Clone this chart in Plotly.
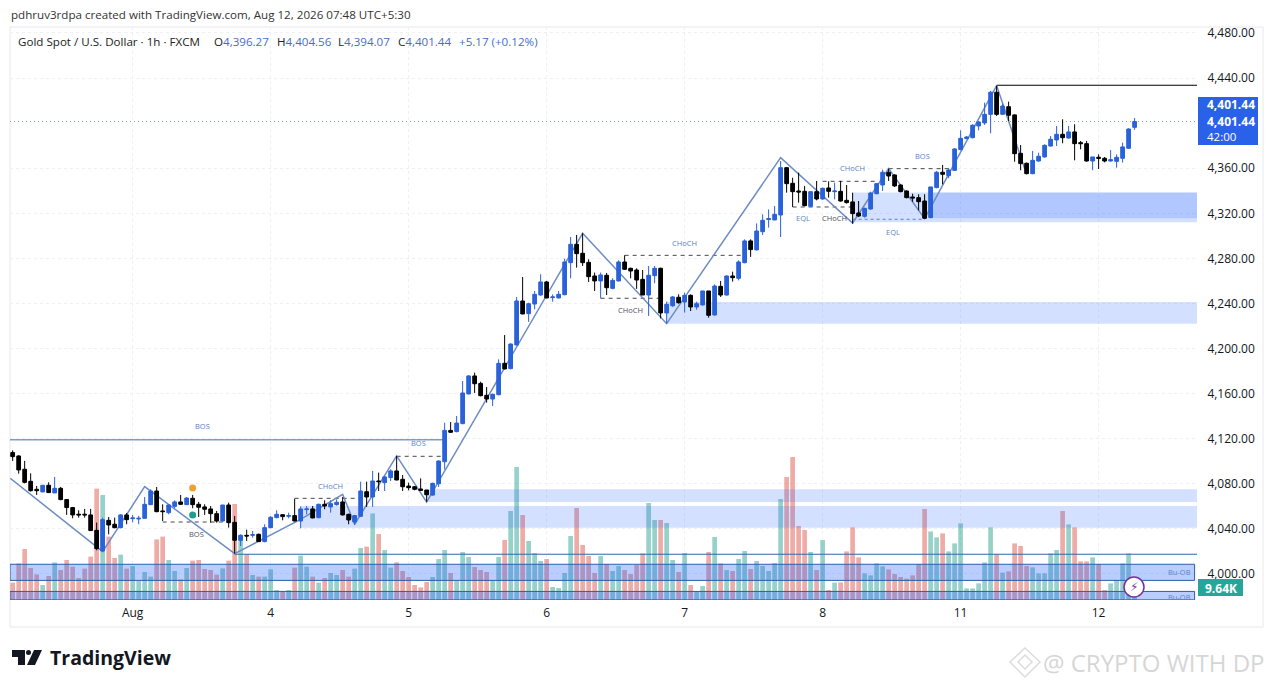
import plotly.graph_objects as go

W, H = 1273, 688
opens = [4107.7,4104.7,4092.9,4082.2,4075.1,4072.8,4078.7,4071.9,4076.0,4066.0,4058.9,4053.0,4053.0,4052.4,4038.7,4020.4,4047.6,4044.1,4041.1,4052.4,4049.1,4048.8,4049.4,4061.5,4073.6,4055.9,4054.4,4060.0,4063.9,4061.5,4067.1,4061.8,4059.5,4057.7,4053.5,4047.0,4061.2,4045.8,4029.9,4034.3,4034.3,4035.2,4028.7,4041.1,4050.0,4052.6,4051.2,4051.8,4047.0,4057.1,4057.7,4050.0,4061.8,4059.5,4061.5,4063.9,4052.9,4046.1,4051.2,4073.0,4068.3,4082.5,4081.0,4085.5,4091.4,
4084.0,4078.0,4077.4,4075.4,4074.5,4070.0,4080.1,4099.6,4127.4,4126.3,4133.4,4159.7,4175.7,4169.1,4158.5,4155.2,4159.1,4186.9,4182.2,4203.2,4242.2,4231.0,4239.5,4247.5,4259.1,4245.2,4244.9,4247.8,4276.2,4292.5,4284.5,4276.5,4264.4,4260.0,4265.0,4253.4,4260.0,4276.8,4271.2,4269.7,4261.4,4247.5,4264.7,4271.2,4231.6,4238.0,4245.5,4241.3,4247.2,4236.9,4238.7,4251.1,4229.8,4255.2,4247.5,4264.4,4262.3,4276.2,4295.5,4287.5,
4303.7,4314.4,4314.1,4318.5,4360.5,4346.6,4339.8,4339.5,4326.2,4339.2,4332.7,4342.5,4339.2,4339.5,4331.5,4330.1,4320.3,4317.3,4323.8,4337.4,4345.1,4356.4,4354.0,4345.1,4339.8,4334.5,4333.9,4330.9,4316.2,4342.8,4356.4,4353.4,4358.1,4376.5,4386.3,4387.1,4397.5,4400.2,4407.8,4427.4,4407.8,4414.6,4407.3,4373.2,4364.4,4355.2,4366.4,4370.0,4379.7,4385.1,4390.1,4386.8,4392.2,4382.7,4381.8,4366.4,4369.7,4368.8,4366.4,4366.1,4368.8,4377.7,4396.27]
highs = [4109.7,4105.3,4100.3,4089.3,4078.1,4078.9,4081.3,4086.1,4077.2,4066.0,4059.5,4056.5,4057.7,4057.7,4045.6,4050.0,4050.6,4050.0,4053.0,4054.1,4052.4,4051.5,4068.3,4075.1,4077.2,4061.8,4061.8,4065.4,4070.1,4068.3,4070.1,4063.9,4061.8,4060.3,4055.9,4061.2,4063.3,4051.5,4035.2,4039.3,4038.2,4035.8,4044.1,4051.2,4056.5,4052.9,4054.4,4066.8,4060.0,4060.3,4060.3,4062.4,4065.4,4065.4,4066.2,4068.3,4053.5,4052.4,4081.9,4081.9,4091.4,4089.9,4087.0,4092.9,4104.7,
4087.8,4081.0,4078.0,4084.8,4074.5,4081.0,4100.8,4134.2,4134.8,4140.2,4171.2,4176.5,4178.6,4170.6,4165.9,4160.0,4190.4,4212.0,4204.6,4245.8,4263.5,4240.7,4251.1,4265.9,4260.0,4248.1,4251.1,4279.8,4299.0,4300.8,4302.3,4279.2,4267.4,4267.4,4267.1,4262.3,4278.3,4282.7,4271.8,4271.2,4269.7,4273.3,4273.3,4271.8,4241.6,4246.6,4248.1,4249.6,4248.1,4241.6,4251.1,4251.1,4257.0,4260.0,4265.0,4268.2,4278.3,4296.9,4296.9,4311.0,
4319.1,4323.5,4326.5,4366.4,4361.1,4351.6,4356.1,4344.3,4339.8,4348.7,4342.8,4348.4,4347.2,4348.7,4345.1,4338.3,4330.9,4325.0,4339.2,4346.9,4358.7,4359.6,4354.6,4345.7,4340.4,4337.4,4336.9,4336.9,4343.4,4357.6,4362.9,4359.9,4377.7,4393.6,4388.6,4399.0,4401.9,4418.2,4428.6,4433.3,4417.3,4419.1,4407.8,4380.6,4365.0,4375.3,4373.8,4381.2,4388.6,4397.5,4403.4,4397.5,4399.0,4384.2,4384.2,4370.0,4372.3,4370.0,4376.2,4372.3,4382.7,4395.4,4404.56]
lows = [4100.3,4089.0,4080.4,4073.0,4070.1,4072.5,4071.9,4071.9,4065.4,4052.4,4049.4,4050.0,4050.0,4038.2,4021.0,4019.8,4035.2,4040.5,4040.5,4044.1,4045.8,4044.1,4048.8,4061.2,4054.7,4047.0,4052.9,4058.3,4061.2,4061.2,4058.3,4050.6,4052.4,4045.5,4045.5,4046.4,4041.1,4018.0,4024.8,4029.3,4032.2,4028.4,4028.1,4040.5,4049.4,4047.6,4049.4,4046.7,4040.5,4052.9,4049.4,4049.4,4057.4,4054.4,4060.6,4051.8,4044.1,4043.5,4050.6,4059.5,4059.5,4073.6,4073.6,4082.5,4083.1,
4073.6,4074.2,4074.2,4073.6,4064.1,4069.5,4077.2,4092.8,4125.1,4125.7,4132.8,4159.4,4160.6,4157.6,4152.0,4149.0,4158.5,4181.6,4181.6,4202.6,4230.4,4223.6,4234.8,4246.9,4244.6,4241.6,4244.6,4247.2,4262.3,4271.8,4273.3,4259.1,4251.1,4244.6,4247.5,4252.6,4259.4,4269.7,4262.3,4252.9,4247.5,4228.9,4257.9,4226.8,4222.1,4236.9,4239.8,4231.9,4233.3,4234.5,4238.1,4227.4,4229.2,4245.8,4246.9,4259.4,4260.5,4275.6,4281.3,4287.2,
4300.8,4307.3,4313.8,4299.0,4338.3,4325.6,4329.5,4326.2,4325.6,4331.5,4332.1,4333.9,4332.4,4330.3,4328.6,4310.8,4316.7,4316.1,4323.2,4336.9,4339.8,4348.7,4343.4,4338.6,4333.3,4330.3,4322.6,4315.0,4315.6,4342.2,4345.7,4351.1,4357.6,4375.9,4385.7,4386.5,4393.6,4398.4,4391.0,4406.4,4407.2,4401.9,4365.8,4358.2,4354.6,4354.6,4365.8,4369.4,4379.2,4379.7,4382.1,4386.3,4367.0,4376.8,4365.8,4358.2,4359.3,4365.2,4365.8,4360.5,4365.0,4377.1,4394.07]
closes = [4104.1,4092.3,4081.3,4073.9,4073.9,4078.7,4072.2,4076.0,4066.0,4058.9,4052.4,4052.4,4052.4,4038.5,4022.5,4048.2,4043.5,4041.1,4052.4,4048.2,4049.7,4049.4,4061.8,4073.6,4055.3,4055.3,4061.2,4063.9,4061.8,4067.4,4061.5,4059.2,4057.4,4053.5,4047.0,4061.2,4045.5,4029.9,4034.3,4033.7,4034.9,4028.7,4041.1,4050.3,4052.9,4050.9,4051.8,4047.0,4057.7,4057.7,4049.7,4061.8,4060.3,4062.4,4063.6,4052.4,4047.9,4051.8,4073.6,4068.3,4082.5,4081.9,4086.1,4091.4,4083.4,
4077.4,4076.6,4075.1,4074.2,4070.3,4080.4,4100.2,4127.4,4125.7,4133.9,4160.6,4175.7,4168.8,4158.2,4155.2,4159.4,4186.9,4181.9,4204.0,4242.2,4230.7,4239.8,4248.1,4259.1,4244.9,4245.8,4248.1,4276.8,4292.5,4284.2,4276.2,4263.8,4260.0,4265.3,4254.0,4260.5,4276.8,4270.3,4268.8,4260.8,4247.5,4265.0,4271.2,4231.6,4239.2,4245.8,4240.7,4247.2,4236.9,4239.8,4251.1,4229.5,4255.5,4247.5,4264.4,4262.9,4276.8,4295.5,4287.8,4304.3,
4313.8,4315.3,4319.1,4360.5,4346.3,4339.2,4338.9,4326.8,4339.2,4332.7,4342.2,4339.5,4339.8,4330.9,4329.5,4319.7,4317.6,4324.4,4338.0,4346.3,4356.4,4353.1,4344.3,4339.2,4333.9,4333.6,4330.3,4315.6,4343.4,4356.4,4354.6,4358.4,4377.1,4386.5,4387.7,4398.1,4401.0,4407.8,4427.4,4407.8,4415.2,4407.0,4372.9,4364.1,4355.2,4367.0,4370.6,4380.3,4385.7,4390.1,4387.1,4392.2,4381.8,4381.8,4366.4,4370.0,4368.8,4366.4,4367.6,4369.7,4378.9,4394.8,4401.44]
volumes_k = [13.9,29.3,40.8,25.6,20.5,12.0,19.2,30.1,24.0,32.0,26.7,17.6,25.1,34.7,89.1,84.0,50.7,33.6,36.3,25.1,27.2,15.5,22.4,18.7,48.5,50.7,32.0,23.2,16.5,25.6,31.5,32.0,24.8,24.0,20.3,25.3,31.5,76.8,52.0,36.8,20.0,18.7,18.7,24.5,8.0,6.7,8.0,25.9,35.5,26.7,18.7,13.9,17.6,21.6,20.0,24.0,18.7,25.1,41.6,42.7,69.3,52.8,40.0,25.9,30.1,
23.2,18.4,12.0,10.1,14.4,18.4,32.8,40.0,21.6,15.2,38.4,34.4,26.4,24.0,22.4,16.0,34.4,48.0,71.2,106.4,68.0,47.2,37.6,31.2,32.8,10.4,9.6,21.6,51.2,73.6,44.0,35.2,21.6,35.2,28.8,23.2,27.2,24.0,20.8,28.0,37.3,77.6,64.0,64.0,61.6,32.0,22.4,37.6,12.0,7.2,11.2,38.4,50.4,29.3,24.0,23.2,32.8,39.2,24.8,31.2,
27.2,23.2,29.6,80.8,98.4,114.4,59.2,56.0,38.4,24.0,48.0,8.0,13.9,14.1,38.9,58.1,34.1,21.3,19.7,29.3,26.9,24.5,20.8,18.4,17.1,19.7,28.8,72.8,54.9,50.1,53.3,38.9,45.3,61.3,9.3,9.3,13.3,30.1,58.1,36.8,21.9,22.9,45.3,43.2,27.2,26.1,21.3,21.3,37.3,40.0,71.2,60.5,58.1,30.9,30.9,34.1,28.8,8.0,13.3,16.0,29.3,37.3,9.64]

day_ticks = [20, 43, 66, 89, 112, 135, 158, 181]
day_labels = ["Aug", "4", "5", "6", "7", "8", "11", "12"]
price_ticks = [4000, 4040, 4080, 4120, 4160, 4200, 4240, 4280, 4320, 4360, 4440, 4480]

zigzag_i = [-0.4, 15, 22, 37, 48, 55, 57, 64, 69, 95, 109, 128, 140, 146, 152, 164, 169]
zigzag_p = [4084.9, 4019.8, 4077.5, 4018.0, 4048.5, 4070.7, 4044.1, 4104.7, 4063.8, 4302.3, 4222.1, 4369.4, 4311.4, 4359.6, 4315.3, 4433.3, 4354.6]

END = 197.4
LEFT = -0.445
zones = [
    (140, END, 4338.5, 4312.0, 0.20, False),
    (153, END, 4338.5, 4315.6, 0.20, False),
    (109, END, 4241.3, 4222.1, 0.20, False),
    (69, END, 4075.1, 4063.9, 0.20, False),
    (48, END, 4060.3, 4041.1, 0.20, False),
    (LEFT, 197, 4008.6, 3994.3, 0.32, True),
    (LEFT, 197, 3984.5, 3977.0, 0.32, True),
]
solid_lines = [
    (LEFT, 72, 4119.0, "#3a6fb0", 1),
    (37, END, 4017.5, "#2f66a8", 1),
    (164, END, 4433.6, "#000000", 1.2),
]
dashed_lines = [
    (25, 35, 4046.1), (47, 59, 4067.1), (64, 72, 4104.4), (98, 108, 4244.6),
    (102, 122, 4282.7), (135, 144, 4348.4), (130, 140, 4325.6), (146, 156, 4359.6),
]
BLUE_TXT = "#5b84c4"
DARK_TXT = "#50535e"
labels = [
    ("BOS", 31.7, 4131.3, BLUE_TXT), ("BOS", 67.7, 4116.2, BLUE_TXT), ("CHoCH", 53, 4078.4, BLUE_TXT),
    ("BOS", 30.7, 4035.5, DARK_TXT), ("CHoCH", 112, 4294.0, BLUE_TXT), ("CHoCH", 103, 4234.5, DARK_TXT),
    ("CHoCH", 140, 4360.0, BLUE_TXT), ("BOS", 151.7, 4371.2, BLUE_TXT), ("EQL", 131.7, 4315.9, BLUE_TXT),
    ("CHoCH", 137, 4315.9, DARK_TXT), ("EQL", 146.7, 4303.5, BLUE_TXT), ("Bu-OB", 194.4, 4001.8, BLUE_TXT),
    ("Bu-OB", 194.4, 3979.5, BLUE_TXT),
]
LAST = 4401.44


def px(x):
    return x / W


def py(y):
    return 1 - y / H


idx = list(range(len(closes)))
vol_colors = ["rgba(38,160,145,0.48)" if c >= o else "rgba(225,95,85,0.52)" for o, c in zip(opens, closes)]

fig = go.Figure()
fig.add_trace(go.Bar(x=idx, y=volumes_k, marker=dict(color=vol_colors, line_width=0), width=0.78,
                     yaxis="y", hoverinfo="skip", showlegend=False))
for x0, x1, top, bot, op, outline in zones:
    fig.add_trace(go.Scatter(x=[x0, x1, x1, x0, x0], y=[top, top, bot, bot, top], mode="lines",
                             fill="toself", fillcolor=f"rgba(41,98,255,{op})",
                             line=dict(color="#2a5fa8" if outline else "rgba(0,0,0,0)", width=1),
                             yaxis="y2", hoverinfo="skip", showlegend=False))
for x0, x1, p, col, w in solid_lines:
    fig.add_trace(go.Scatter(x=[x0, x1], y=[p, p], mode="lines", line=dict(color=col, width=w),
                             yaxis="y2", hoverinfo="skip", showlegend=False))
for x0, x1, p in dashed_lines:
    fig.add_trace(go.Scatter(x=[x0, x1], y=[p, p], mode="lines", line=dict(color="#333333", width=0.9, dash="4px,4px"),
                             yaxis="y2", hoverinfo="skip", showlegend=False))
fig.add_trace(go.Scatter(x=[140, 152], y=[4314.7, 4314.7], mode="lines", line=dict(color="#5b84c4", width=1, dash="dot"),
                         yaxis="y2", hoverinfo="skip", showlegend=False))
fig.add_trace(go.Scatter(x=[LEFT, END], y=[LAST, LAST], mode="lines", line=dict(color="#8a9bb5", width=1, dash="1px,3px"),
                         yaxis="y2", hoverinfo="skip", showlegend=False))
fig.add_trace(go.Scatter(x=zigzag_i, y=zigzag_p, mode="lines", line=dict(color="#6d8cc4", width=1.5),
                         yaxis="y2", hoverinfo="skip", showlegend=False))
fig.add_trace(go.Candlestick(x=idx, open=opens, high=highs, low=lows, close=closes, yaxis="y3",
                             increasing=dict(line=dict(color="#2962d9", width=1), fillcolor="#2962d9"),
                             decreasing=dict(line=dict(color="#000000", width=1), fillcolor="#000000"),
                             whiskerwidth=0, hoverinfo="skip", showlegend=False))
fig.add_trace(go.Scatter(x=[30], y=[4076.3], mode="markers", marker=dict(color="#f0a030", size=7), yaxis="y2",
                         hoverinfo="skip", showlegend=False))
fig.add_trace(go.Scatter(x=[30], y=[4052.4], mode="markers", marker=dict(color="#1f9e89", size=7), yaxis="y2",
                         hoverinfo="skip", showlegend=False))

FONT = "Open Sans"
ann = []


def text(x, y, s, size, color, anchor="left", bold=False, fam=FONT):
    ann.append(dict(x=px(x), y=py(y), xref="paper", yref="paper", text=f"<b>{s}</b>" if bold else s, showarrow=False,
                    xanchor=anchor, yanchor="middle", font=dict(family=fam, size=size, color=color),
                    borderpad=0))


for s, i, p, c in labels:
    ann.append(dict(x=i, y=p, xref="x", yref="y2", text=s, showarrow=False, font=dict(family=FONT, size=7.5, color=c)))

VAL = "#3f70c8"
text(10, 14, "pdhruv3rdpa created with TradingView.com, Aug 12, 2026 07:48 UTC+5:30", 11.6, "#333333")
text(17, 41, "Gold Spot / U.S. Dollar · 1h · FXCM", 11.6, "#222222")
for x0, letter, val in [(213, "O", "4,396.27"), (276, "H", "4,404.56"), (337, "L", "4,394.07"), (397, "C", "4,401.44")]:
    text(x0, 41, f"{letter}<span style='color:{VAL}'>{val}</span>", 11.6, "#222222")
text(458, 41, "+5.17 (+0.12%)", 11.6, VAL)
text(1206, 105, "4,401.44", 12, "#ffffff", bold=True)
text(1206, 122, "4,401.44", 12, "#ffffff", bold=True)
text(1206, 136.5, "42:00", 11.5, "#ffffff")
text(1221, 588, "9.64K", 12, "#ffffff", anchor="center", bold=True)
text(1134, 587, "⚡", 12, "#7b2d9e", anchor="center", fam="DejaVu Sans")
text(49, 657, "TradingView", 19.5, "#131722", bold=True)
text(1042, 662, "@ CRYPTO WITH DP", 24, "#d6d6d6")

shapes = [
    dict(type="rect", xref="paper", yref="paper", x0=px(10), x1=px(1263), y0=py(627), y1=py(27),
         line=dict(color="#e6e8ee", width=1), layer="below"),
    dict(type="rect", xref="paper", yref="paper", x0=px(1198), x1=px(1258), y0=py(145), y1=py(97),
         fillcolor="#2962e8", line_width=0),
    dict(type="rect", xref="paper", yref="paper", x0=px(1198), x1=px(1243), y0=py(596), y1=py(579),
         fillcolor="#26a69a", line_width=0),
    dict(type="circle", xref="paper", yref="paper", x0=px(1124), x1=px(1144), y0=py(597), y1=py(577),
         fillcolor="#ffffff", line=dict(color="#7b2d9e", width=1.5)),
]


def poly(points, **kw):
    path = "M " + " L ".join(f"{px(a):.5f},{py(b):.5f}" for a, b in points) + " Z"
    return dict(type="path", xref="paper", yref="paper", path=path, **kw)


shapes += [
    poly([(12, 650), (25, 650), (25, 665), (18, 665), (18, 657), (12, 657)], fillcolor="#131722", line_width=0),
    dict(type="circle", xref="paper", yref="paper", x0=px(26), x1=px(31), y0=py(655), y1=py(650), fillcolor="#131722", line_width=0),
    poly([(34, 650), (42, 650), (35, 665), (27, 665)], fillcolor="#131722", line_width=0),
    poly([(1025, 648), (1040, 662), (1025, 677), (1010, 662)], fillcolor="rgba(0,0,0,0)", line=dict(color="#dcdcdc", width=1.5)),
    poly([(1025, 655), (1032, 662), (1025, 669), (1018, 662)], fillcolor="rgba(0,0,0,0)", line=dict(color="#dcdcdc", width=1.5)),
]

dom_y = [py(600), py(27)]
price_range = [3976.9, 4485.3]
GRID = "#eef0f4"
fig.update_layout(
    width=W, height=H, margin=dict(l=0, r=0, t=0, b=0, autoexpand=False), paper_bgcolor="#ffffff", plot_bgcolor="#ffffff",
    bargap=0.2, boxgap=0.22, boxgroupgap=0.2, dragmode=False, showlegend=False, annotations=ann, shapes=shapes,
    font=dict(family=FONT, color="#131722", size=12),
    xaxis=dict(domain=[px(10), px(1197)], range=[LEFT, END], tickmode="array", tickvals=day_ticks, ticktext=day_labels,
               showgrid=True, gridcolor=GRID, griddash="dot", gridwidth=1, zeroline=False, showline=False,
               rangeslider=dict(visible=False), ticks="outside", ticklen=2, tickcolor="rgba(0,0,0,0)", tickfont=dict(size=12, color="#131722")),
    yaxis=dict(domain=dom_y, range=[0, 458.4], showgrid=False, zeroline=False, showticklabels=False, ticks=""),
    yaxis2=dict(domain=dom_y, range=price_range, overlaying="y", side="right", anchor="x", showgrid=False, zeroline=False,
                showticklabels=False, ticks=""),
    yaxis3=dict(domain=dom_y, range=price_range, overlaying="y", side="right", anchor="x", tickmode="array", tickvals=price_ticks,
                tickformat=",.2f", showgrid=True, gridcolor=GRID, griddash="dot", gridwidth=1, zeroline=False, ticks="outside",
                ticklen=7, tickcolor="rgba(0,0,0,0)", tickfont=dict(size=12, color="#131722")),
)

fig.write_html("out.html", config=dict(displayModeBar=False, staticPlot=True),
               post_script="document.body.style.margin='0';document.documentElement.style.overflow='hidden';")
